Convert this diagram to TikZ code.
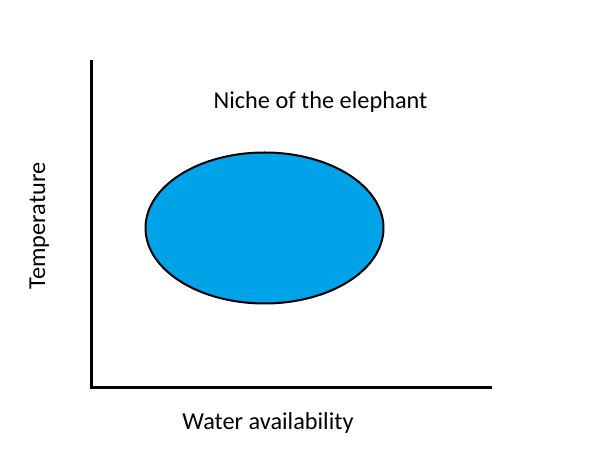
\documentclass[tikz,border=0pt]{standalone}
\usepackage{fontspec}
\setmainfont{Carlito}
\usetikzlibrary{shapes.geometric}
\begin{document}
\begin{tikzpicture}[x=1pt, y=-1pt, axis/.style = {line width=3pt}, niche/.style = {draw, ellipse, line width=2pt, fill=nicheblue, minimum width=238pt, minimum height=151pt, inner sep=0pt}, lbl/.style = {font=\fontsize{24.3}{29}\selectfont, inner sep=0pt}]
				\definecolor{nicheblue}{HTML}{00A2E8}
				\useasboundingbox (0,0) rectangle (608,462);
				\coordinate (top) at (91,60);
				\coordinate (origin) at (91,387.5);
				\coordinate (right) at (492,387.5);
				\node[niche] (elephant) at (264.5,228) {};
				\node[lbl, anchor=base] (title) at (320.5,108.5) {Niche of the elephant};
				\node[lbl, anchor=base] (xlabel) at (268,429) {Water availability};
				\node[lbl, anchor=base, rotate=90] (ylabel) at (45,226) {Temperature};
				\draw[axis] (top) -- (origin) -- (right);
			\end{tikzpicture}
\end{document}
